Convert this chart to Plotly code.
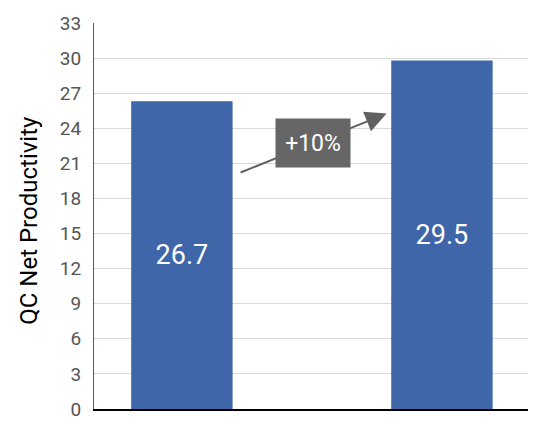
import plotly.graph_objects as go

# data
categories = [0, 1]
bar_heights = [26.3, 29.8]
bar_labels = ["26.7", "29.5"]
y_ticks = list(range(0, 34, 3))
change_label = "+10%"
y_title = "QC Net Productivity"

BLUE = "#4066AA"
GRAY = "#616161"
FONT = "Roboto"

fig = go.Figure()
fig.add_trace(go.Bar(
    x=categories, y=bar_heights, width=0.39,
    marker=dict(color=BLUE, line=dict(width=0)),
    text=bar_labels, textposition="inside", insidetextanchor="middle",
    textangle=0,
    textfont=dict(family=FONT, size=27, color="white"),
    hoverinfo="skip",
))

# arrow showing the increase
fig.add_annotation(
    x=0.787, y=25.26, ax=0.22, ay=20.17, xref="x", yref="y", axref="x", ayref="y",
    text="", showarrow=True, arrowhead=2, arrowsize=2.1, arrowwidth=2, arrowcolor=GRAY,
)
fig.add_annotation(
    x=0.504, y=22.7, xref="x", yref="y", text=change_label, showarrow=False,
    bgcolor="#666666", width=70, height=44, borderpad=2,
    font=dict(family=FONT, size=23, color="white"),
)
fig.add_annotation(
    x=-0.15, y=0.49, xref="paper", yref="paper", text=y_title, textangle=-90,
    showarrow=False, xanchor="center", yanchor="middle",
    font=dict(family=FONT, size=24, color="black"),
)

fig.update_layout(
    width=557, height=433,
    margin=dict(l=94, r=29, t=21, b=24),
    paper_bgcolor="white", plot_bgcolor="white",
    showlegend=False,
    font=dict(family=FONT),
)
fig.update_xaxes(
    range=[-0.338, 1.331], showticklabels=False, showgrid=False, zeroline=False,
    showline=True, linecolor="black", linewidth=1.5, ticks="",
)
fig.update_yaxes(
    range=[0, 33], tickvals=y_ticks, showgrid=True, gridcolor="#d9d9d9", gridwidth=1,
    zeroline=False, showline=True, linecolor="#595959", linewidth=1,
    ticks="", ticklabelstandoff=8,
    tickfont=dict(family=FONT, size=19, color="#555555"),
)

# drop the default page margin so the figure sits at the window's corner
fig.write_html("out.html", config={"displayModeBar": False},
               post_script="document.body.style.margin='0';")
